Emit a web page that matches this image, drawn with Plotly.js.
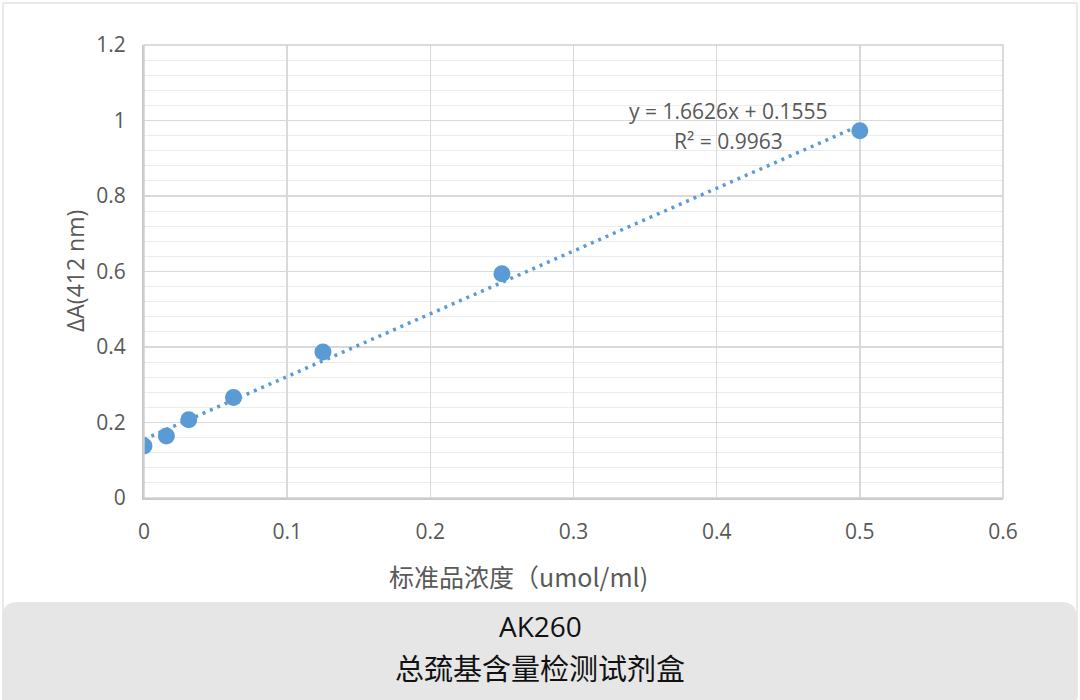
<!DOCTYPE html>
<html>
<head>
<meta charset="utf-8">
<script src="https://cdn.plot.ly/plotly-3.0.1.min.js"></script>
<style>html,body{margin:0;padding:0;background:#fff;}#chart{width:1080px;height:700px;}</style>
</head>
<body>
<div id="chart"></div>
<script>
// Data
const concentration = [0, 0.015625, 0.03125, 0.0625, 0.125, 0.25, 0.5];
const deltaA = [0.138, 0.164, 0.207, 0.266, 0.387, 0.594, 0.973];
const trendX = [0, 0.5];
const trendY = [0.1555, 0.9868];
const equationText = "y = 1.6626x + 0.1555";
const r2Text = "R² = 0.9963";
const xTitle = "标准品浓度（umol/ml)";
const yTitle = "ΔA(412 nm)";
const boxLine1 = "AK260";
const boxLine2 = "总巯基含量检测试剂盒";
const xTicks = [0, 0.1, 0.2, 0.3, 0.4, 0.5, 0.6];
const yTicks = [0, 0.2, 0.4, 0.6, 0.8, 1, 1.2];

const W = 1080, H = 700;
const M = {l: 144, r: 77, t: 45, b: 202};
const PW = W - M.l - M.r, PH = H - M.t - M.b;
const px = x => (x - M.l) / PW;
const py = y => (H - M.b - y) / PH;

const gray = '#595959';
const latin = 'Open Sans, Liberation Sans, sans-serif';
const tickFont = {family: latin, size: 21, color: gray};

// rounded box path (paper coordinates)
function roundedTop(x0, y0, x1, y1, r) {
  const X0 = px(x0), X1 = px(x1), Y0 = py(y0), Y1 = py(y1);
  const rx = r / PW, ry = r / PH;
  return `M ${X0} ${Y1} L ${X0} ${Y0 - ry} Q ${X0} ${Y0} ${X0 + rx} ${Y0} L ${X1 - rx} ${Y0} Q ${X1} ${Y0} ${X1} ${Y0 - ry} L ${X1} ${Y1} Z`;
}

const traces = [
  {
    x: trendX, y: trendY, mode: 'lines', type: 'scatter',
    line: {color: '#5b9bd5', width: 3.5, dash: '3px,5px'},
    hoverinfo: 'skip', showlegend: false
  },
  {
    x: concentration, y: deltaA, mode: 'markers', type: 'scatter',
    marker: {color: '#5b9bd5', size: 17},
    showlegend: false
  }
];

const layout = {
  width: W, height: H,
  margin: M,
  paper_bgcolor: '#ffffff',
  plot_bgcolor: '#ffffff',
  showlegend: false,
  xaxis: {
    range: [0, 0.6], tickvals: xTicks, ticktext: xTicks.map(String),
    showgrid: true, gridcolor: '#d9d9d9', gridwidth: 1.5,
    zeroline: false, showline: true, linecolor: '#c8c8c8', linewidth: 2,
    ticks: 'outside', ticklen: 14, tickcolor: 'rgba(0,0,0,0)',
    tickfont: tickFont, fixedrange: true
  },
  yaxis: {
    range: [0, 1.2], tickvals: yTicks, ticktext: yTicks.map(String),
    showgrid: true, gridcolor: '#d9d9d9', gridwidth: 1.5,
    minor: {dtick: 0.04, showgrid: true, gridcolor: '#ebebeb', gridwidth: 1, ticks: ''},
    zeroline: false, showline: true, linecolor: '#c8c8c8', linewidth: 2,
    ticks: 'outside', ticklen: 12, tickcolor: 'rgba(0,0,0,0)',
    tickfont: tickFont, fixedrange: true
  },
  shapes: [
    {type: 'rect', xref: 'paper', yref: 'paper', layer: 'below',
     x0: px(3), x1: px(1077), y0: py(697), y1: py(3),
     line: {color: '#e3e3e3', width: 1.5}, fillcolor: 'rgba(0,0,0,0)'},
    {type: 'rect', xref: 'paper', yref: 'paper', layer: 'above',
     x0: px(144), x1: px(1003), y0: py(498), y1: py(45),
     line: {color: '#d0d0d0', width: 1.5}, fillcolor: 'rgba(0,0,0,0)'},
    {type: 'path', xref: 'paper', yref: 'paper', layer: 'above',
     path: roundedTop(2, 602, 1077, 705, 16),
     fillcolor: '#e6e6e6', line: {width: 0}}
  ],
  annotations: [
    {xref: 'paper', yref: 'paper', x: px(728), y: py(111), text: equationText, showarrow: false,
     xanchor: 'center', yanchor: 'middle', font: {family: latin, size: 21, color: gray}},
    {xref: 'paper', yref: 'paper', x: px(728), y: py(141), text: r2Text, showarrow: false,
     xanchor: 'center', yanchor: 'middle', font: {family: latin, size: 21, color: gray}},
    {xref: 'paper', yref: 'paper', x: px(518), y: py(576), text: xTitle, showarrow: false,
     xanchor: 'center', yanchor: 'middle', font: {family: 'Noto Sans CJK SC, Open Sans, sans-serif', size: 25, color: gray}},
    {xref: 'paper', yref: 'paper', x: px(75), y: py(271), text: yTitle, showarrow: false, textangle: -90,
     xanchor: 'center', yanchor: 'middle', font: {family: latin, size: 23, color: gray}},
    {xref: 'paper', yref: 'paper', x: px(540), y: py(626), text: boxLine1, showarrow: false,
     xanchor: 'center', yanchor: 'middle',
     font: {family: latin, size: 28, color: '#111111'}},
    {xref: 'paper', yref: 'paper', x: px(540), y: py(667), text: boxLine2, showarrow: false,
     xanchor: 'center', yanchor: 'middle',
     font: {family: 'Noto Sans CJK SC, sans-serif', size: 29, color: '#111111'}}
  ]
};

Plotly.newPlot('chart', traces, layout, {displayModeBar: false, staticPlot: true});
</script>
</body>
</html>
